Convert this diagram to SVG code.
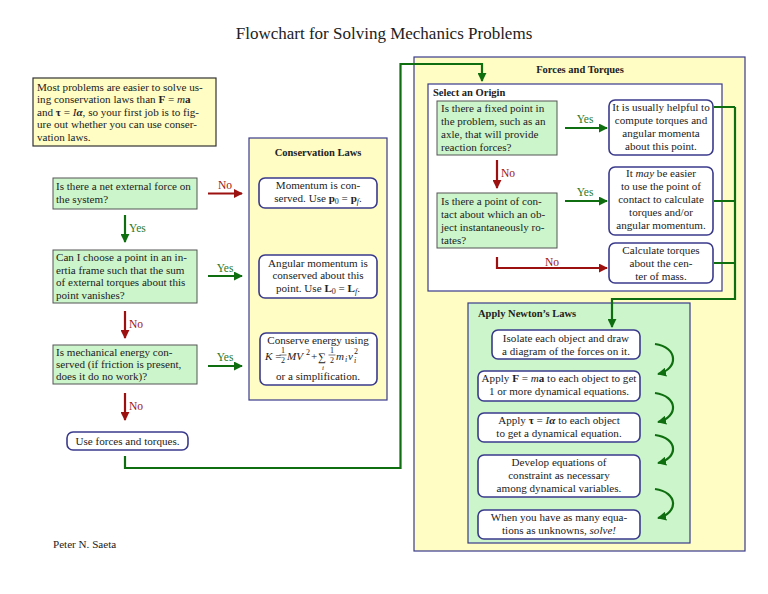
<svg xmlns="http://www.w3.org/2000/svg" width="768" height="594" viewBox="0 0 768 594">
<defs>
<style>
text{font-family:"Liberation Serif","Times New Roman",serif;font-size:11.1px;fill:#222}
.t{font-size:17px}
.h{font-weight:bold;font-size:10.5px}
.c{text-anchor:middle}
.b{font-weight:bold}
.i{font-style:italic}
.yes{fill:#2a7a2a;font-size:11.5px}
.no{fill:#a01010;font-size:11.5px}
.q{fill:#ccf5cc;stroke:#555;stroke-width:1}
.r{fill:#fff;stroke:#3a3a8c;stroke-width:1.6}
.py{fill:#fffcc4;stroke:#3a3a8c;stroke-width:1.2}
.g{fill:none;stroke:#0f6e0f;stroke-width:2.2}
.red{fill:none;stroke:#9c1010;stroke-width:2.2}
.sm{font-size:8px}
.xs{font-size:7px}
</style>
<marker id="ag" viewBox="0 0 10 10" refX="9" refY="5" markerWidth="9" markerHeight="9" markerUnits="userSpaceOnUse" orient="auto"><path d="M0,0 L10,5 L0,10 z" fill="#0f6e0f"/></marker>
<marker id="ar" viewBox="0 0 10 10" refX="9" refY="5" markerWidth="9" markerHeight="9" markerUnits="userSpaceOnUse" orient="auto"><path d="M0,0 L10,5 L0,10 z" fill="#9c1010"/></marker>
</defs>
<rect width="768" height="594" fill="#fff"/>
<text class="t c" x="384" y="39">Flowchart for Solving Mechanics Problems</text>

<g id="panel-forces">
<rect class="py" x="414" y="57" width="331" height="494"/>
<text class="h c" x="580" y="73">Forces and Torques</text>
</g>
<g id="panel-origin">
<rect x="428" y="84" width="294" height="207" fill="#fff" stroke="#3a3a8c" stroke-width="1.2"/>
<text class="h" x="433" y="96">Select an Origin</text>
</g>
<g id="panel-newton">
<rect x="468" y="303" width="222" height="240" fill="#ccf5cc" stroke="#3a3a8c" stroke-width="1.2"/>
<text class="h" x="478" y="317">Apply Newton’s Laws</text>
</g>
<g id="panel-conservation">
<rect class="py" x="249" y="138" width="138" height="262"/>
<text class="h c" x="318" y="156">Conservation Laws</text>
</g>

<g id="note">
<rect x="33" y="78" width="183" height="68" fill="#fffcc4" stroke="#333" stroke-width="1.2"/>
<text x="37" y="90.5">Most problems are easier to solve us-</text>
<text x="37" y="103">ing conservation laws than <tspan class="b">F</tspan> = <tspan class="i">m</tspan><tspan class="b">a</tspan></text>
<text x="37" y="115.5">and <tspan class="b">τ</tspan> = <tspan class="i">I</tspan><tspan class="b i">α</tspan>, so your first job is to fig-</text>
<text x="37" y="128">ure out whether you can use conser-</text>
<text x="37" y="140.5">vation laws.</text>
</g>

<g id="q1">
<rect class="q" x="53" y="178" width="144" height="31"/>
<text x="56" y="189.5">Is there a net external force on</text>
<text x="56" y="202.5">the system?</text>
</g>
<g id="q2">
<rect class="q" x="53" y="250" width="144" height="53"/>
<text x="56" y="261">Can I choose a point in an in-</text>
<text x="56" y="273.5">ertia frame such that the sum</text>
<text x="56" y="286">of external torques about this</text>
<text x="56" y="298.5">point vanishes?</text>
</g>
<g id="q3">
<rect class="q" x="53" y="345" width="144" height="39"/>
<text x="56" y="356">Is mechanical energy con-</text>
<text x="56" y="368">served (if friction is present,</text>
<text x="56" y="380">does it do no work)?</text>
</g>
<g id="use-forces">
<rect class="r" x="67" y="432" width="121" height="18" rx="6"/>
<text class="c" x="127.5" y="445">Use forces and torques.</text>
</g>

<g id="momentum">
<rect class="r" x="259" y="178" width="118" height="30" rx="6"/>
<text class="c" x="318" y="189">Momentum is con-</text>
<text class="c" x="318" y="202">served.  Use <tspan class="b">p</tspan><tspan class="sm" dy="2">0</tspan><tspan dy="-2"> = </tspan><tspan class="b">p</tspan><tspan class="sm i" dy="2">f</tspan><tspan dy="-2">.</tspan></text>
</g>
<g id="angular">
<rect class="r" x="259" y="255" width="118" height="43" rx="6"/>
<text class="c" x="318" y="266.5">Angular momentum is</text>
<text class="c" x="318" y="279">conserved about this</text>
<text class="c" x="318" y="291.5">point.  Use <tspan class="b">L</tspan><tspan class="sm" dy="2">0</tspan><tspan dy="-2"> = </tspan><tspan class="b">L</tspan><tspan class="sm i" dy="2">f</tspan><tspan dy="-2">.</tspan></text>
</g>
<g id="energy">
<rect class="r" x="260" y="333" width="117" height="52" rx="6"/>
<text class="c" x="318" y="344">Conserve energy using</text>
<text x="265" y="359.5"><tspan class="i">K</tspan> =</text>
<text class="sm c" x="283" y="352.5">1</text>
<line x1="279.5" y1="355" x2="286.5" y2="355" stroke="#222" stroke-width="0.6"/>
<text class="sm c" x="283" y="363">2</text>
<text x="287" y="359.5"><tspan class="i">MV</tspan></text>
<text class="sm" x="306" y="355">2</text>
<text x="311" y="359.5">+</text>
<text x="318" y="361" font-size="13px">∑</text>
<text class="xs i" x="322" y="369.5">i</text>
<text class="sm c" x="332" y="352.5">1</text>
<line x1="328.5" y1="355" x2="335.5" y2="355" stroke="#222" stroke-width="0.6"/>
<text class="sm c" x="332" y="363">2</text>
<text x="336" y="359.5"><tspan class="i">m</tspan></text>
<text class="sm i" x="345" y="361.5">i</text>
<text x="348" y="359.5"><tspan class="i">v</tspan></text>
<text class="sm" x="354" y="354">2</text>
<text class="sm i" x="354" y="362.5">i</text>
<text class="c" x="318" y="380">or a simplification.</text>
</g>

<g id="qa">
<rect class="q" x="437" y="101" width="120" height="54"/>
<text x="441" y="111.5">Is there a fixed point in</text>
<text x="441" y="124.5">the problem, such as an</text>
<text x="441" y="137.5">axle, that will provide</text>
<text x="441" y="150.5">reaction forces?</text>
</g>
<g id="qb">
<rect class="q" x="437" y="193" width="120" height="55"/>
<text x="441" y="204.5">Is there a point of con-</text>
<text x="441" y="217.5">tact about which an ob-</text>
<text x="441" y="230.5">ject instantaneously ro-</text>
<text x="441" y="243.5">tates?</text>
</g>
<g id="ra">
<rect class="r" x="609" y="100" width="104" height="55" rx="6"/>
<text class="c" x="661" y="110.5">It is usually helpful to</text>
<text class="c" x="661" y="123.5">compute torques and</text>
<text class="c" x="661" y="136.5">angular momenta</text>
<text class="c" x="661" y="149.5">about this point.</text>
</g>
<g id="rb">
<rect class="r" x="609" y="167" width="104" height="68" rx="6"/>
<text class="c" x="661" y="177">It <tspan class="i">may</tspan> be easier</text>
<text class="c" x="661" y="190">to use the point of</text>
<text class="c" x="661" y="203">contact to calculate</text>
<text class="c" x="661" y="216">torques and/or</text>
<text class="c" x="661" y="229">angular momentum.</text>
</g>
<g id="rc">
<rect class="r" x="609" y="243" width="104" height="40" rx="6"/>
<text class="c" x="661" y="253.5">Calculate torques</text>
<text class="c" x="661" y="266.5">about the cen-</text>
<text class="c" x="661" y="279.5">ter of mass.</text>
</g>

<g id="n1">
<rect class="r" x="492" y="330" width="148" height="29" rx="6"/>
<text class="c" x="566" y="341.5">Isolate each object and draw</text>
<text class="c" x="566" y="354.5">a diagram of the forces on it.</text>
</g>
<g id="n2">
<rect class="r" x="478" y="371" width="162" height="30" rx="6"/>
<text class="c" x="559" y="382">Apply <tspan class="b">F</tspan> = <tspan class="i">m</tspan><tspan class="b">a</tspan> to each object to get</text>
<text class="c" x="559" y="395">1 or more dynamical equations.</text>
</g>
<g id="n3">
<rect class="r" x="478" y="413" width="162" height="29" rx="6"/>
<text class="c" x="559" y="424">Apply <tspan class="b">τ</tspan> = <tspan class="i">I</tspan><tspan class="b i">α</tspan> to each object</text>
<text class="c" x="559" y="437">to get a dynamical equation.</text>
</g>
<g id="n4">
<rect class="r" x="478" y="455" width="162" height="42" rx="6"/>
<text class="c" x="559" y="466">Develop equations of</text>
<text class="c" x="559" y="479">constraint as necessary</text>
<text class="c" x="559" y="492">among dynamical variables.</text>
</g>
<g id="n5">
<rect class="r" x="478" y="510" width="162" height="29" rx="6"/>
<text class="c" x="559" y="521">When you have as many equa-</text>
<text class="c" x="559" y="534">tions as unknowns, <tspan class="i">solve!</tspan></text>
</g>

<g id="connectors">
<path class="red" d="M208 193.5 H242" marker-end="url(#ar)"/>
<path class="g" d="M208 276 H242" marker-end="url(#ag)"/>
<path class="g" d="M208 366 H242" marker-end="url(#ag)"/>
<path class="g" d="M125 215 V242" marker-end="url(#ag)"/>
<path class="red" d="M125 311 V338" marker-end="url(#ar)"/>
<path class="red" d="M125 393 V420" marker-end="url(#ar)"/>
<path class="g" d="M125 456 V468 H400.5 V64 H482 V81" marker-end="url(#ag)"/>
<path class="g" d="M565 128 H607" marker-end="url(#ag)"/>
<path class="g" d="M565 201 H607" marker-end="url(#ag)"/>
<path class="red" d="M497 160 V188" marker-end="url(#ar)"/>
<path class="red" d="M497 257 V268 H607" marker-end="url(#ar)"/>
<path class="g" d="M714 107 H735 M714 201 H735 M714 263 H735"/>
<path class="g" d="M735 107 V299 H612 V327" marker-end="url(#ag)"/>
<path class="g" d="M655 344 C678 347 679 369 658 374" marker-end="url(#ag)"/>
<path class="g" d="M655 393 C678 396 679 417 658 422" marker-end="url(#ag)"/>
<path class="g" d="M655 435 C678 438 679 458 658 463" marker-end="url(#ag)"/>
<path class="g" d="M655 489 C678 492 679 513 658 518" marker-end="url(#ag)"/>
<text class="no c" x="225" y="189">No</text>
<text class="yes c" x="225" y="272">Yes</text>
<text class="yes c" x="225" y="361">Yes</text>
<text class="yes" x="129" y="232">Yes</text>
<text class="no" x="129" y="328">No</text>
<text class="no" x="129" y="410">No</text>
<text class="yes c" x="585" y="123">Yes</text>
<text class="yes c" x="585" y="196">Yes</text>
<text class="no" x="501" y="177">No</text>
<text class="no c" x="552" y="266">No</text>
</g>
<text x="53" y="548" font-size="10px">Peter N. Saeta</text>
</svg>
